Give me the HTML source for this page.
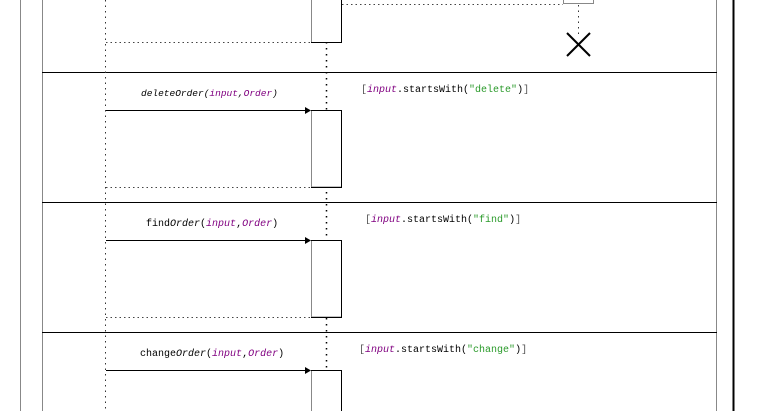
<!DOCTYPE html>
<html><head><meta charset="utf-8"><style>
html,body{margin:0;padding:0;background:#fff;width:780px;height:411px;overflow:hidden}
svg{display:block}
text{font-family:"Liberation Mono","DejaVu Sans Mono",monospace;font-size:10px}
.p{fill:#800080;font-style:italic}
.g{fill:#2a9a2a}
.k{fill:#000}
.gr{fill:#555}
</style></head><body>
<svg width="780" height="411" xmlns="http://www.w3.org/2000/svg">
<!-- frames -->
<line x1="20.5" y1="0" x2="20.5" y2="411" stroke="#888" stroke-width="1"/>
<line x1="42.5" y1="0" x2="42.5" y2="411" stroke="#888" stroke-width="1"/>
<line x1="716.5" y1="0" x2="716.5" y2="411" stroke="#888" stroke-width="1"/>
<line x1="733.5" y1="0" x2="733.5" y2="411" stroke="#000" stroke-width="2"/>
<line x1="42" y1="72.5" x2="717" y2="72.5" stroke="#000"/>
<line x1="42" y1="202.5" x2="717" y2="202.5" stroke="#000"/>
<line x1="42" y1="332.5" x2="717" y2="332.5" stroke="#000"/>
<!-- lifelines -->
<line x1="105.5" y1="0" x2="105.5" y2="411" stroke="#333" stroke-dasharray="1.5,4"/>
<line x1="326.5" y1="42" x2="326.5" y2="411" stroke="#000" stroke-width="1.5" stroke-dasharray="1.5,4.5"/>
<!-- top section -->
<rect x="311.5" y="-1" width="30" height="43.5" fill="#fff" stroke="#888"/>
<line x1="341.5" y1="0" x2="341.5" y2="42.5" stroke="#000"/>
<line x1="311" y1="42.5" x2="342" y2="42.5" stroke="#000"/>
<line x1="106" y1="42.5" x2="311" y2="42.5" stroke="#444" stroke-dasharray="1.5,3"/>
<line x1="342" y1="4.5" x2="563" y2="4.5" stroke="#444" stroke-dasharray="1.5,3"/>
<rect x="563.5" y="-2" width="30" height="5.5" fill="#fff" stroke="#888"/>
<line x1="578.5" y1="5" x2="578.5" y2="34" stroke="#333" stroke-dasharray="1.5,4"/>
<line x1="567" y1="33" x2="590" y2="56" stroke="#000" stroke-width="2"/>
<line x1="590" y1="33" x2="567" y2="56" stroke="#000" stroke-width="2"/>
<!-- section blocks -->
<g>
<line x1="106" y1="110.5" x2="305" y2="110.5" stroke="#000"/>
<polygon points="305,107 311,110.5 305,114" fill="#000"/>
<rect x="311.5" y="110.5" width="30" height="76.5" fill="#fff" stroke="#888"/>
<polyline points="311,110.5 341.5,110.5 341.5,187.5 311,187.5" fill="none" stroke="#000"/>
<line x1="106" y1="187.5" x2="311" y2="187.5" stroke="#444" stroke-dasharray="1.5,3"/>
<text x="141" y="96" class="k" font-style="italic" style="font-size:9.5px">deleteOrder(<tspan class="p">input</tspan>,<tspan class="p">Order</tspan>)</text>
<text x="361" y="92" class="gr">[<tspan class="p">input</tspan><tspan class="k">.startsWith(</tspan><tspan class="g">"delete"</tspan><tspan class="k">)</tspan>]</text>
</g>
<g>
<line x1="106" y1="240.5" x2="305" y2="240.5" stroke="#000"/>
<polygon points="305,237 311,240.5 305,244" fill="#000"/>
<rect x="311.5" y="240.5" width="30" height="76.5" fill="#fff" stroke="#888"/>
<polyline points="311,240.5 341.5,240.5 341.5,317.5 311,317.5" fill="none" stroke="#000"/>
<line x1="106" y1="317.5" x2="311" y2="317.5" stroke="#444" stroke-dasharray="1.5,3"/>
<text x="146" y="226" class="k">find<tspan font-style="italic">Order</tspan>(<tspan class="p">input</tspan>,<tspan class="p">Order</tspan>)</text>
<text x="365" y="222" class="gr">[<tspan class="p">input</tspan><tspan class="k">.startsWith(</tspan><tspan class="g">"find"</tspan><tspan class="k">)</tspan>]</text>
</g>
<g>
<line x1="106" y1="370.5" x2="305" y2="370.5" stroke="#000"/>
<polygon points="305,367 311,370.5 305,374" fill="#000"/>
<rect x="311.5" y="370.5" width="30" height="45" fill="#fff" stroke="#888"/>
<polyline points="311,370.5 341.5,370.5 341.5,412" fill="none" stroke="#000"/>
<text x="140" y="356" class="k">change<tspan font-style="italic">Order</tspan>(<tspan class="p">input</tspan>,<tspan class="p">Order</tspan>)</text>
<text x="359" y="352" class="gr">[<tspan class="p">input</tspan><tspan class="k">.startsWith(</tspan><tspan class="g">"change"</tspan><tspan class="k">)</tspan>]</text>
</g>
</svg>
</body></html>
